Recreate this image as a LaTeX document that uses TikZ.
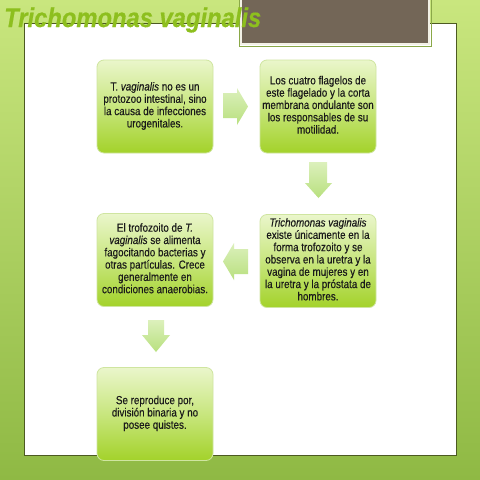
\documentclass[tikz,border=0pt]{standalone}
\usepackage{fontspec}
\usepackage{graphicx}
\setmainfont{Liberation Sans}
\newfontfamily\boxfont[FakeBold=0.3]{Liberation Sans}
\newfontfamily\titlefont[FakeStretch=0.88,FakeBold=0.5]{Liberation Sans}
\newcommand\boxlines[1]{\scalebox{0.84}[1]{\begin{tabular}{@{}c@{}}#1\end{tabular}}}
\definecolor{bgtop}{HTML}{C9E67E}
\definecolor{bgbot}{HTML}{8FB944}
\definecolor{panelline}{HTML}{4D5A22}
\definecolor{brownbox}{HTML}{736657}
\definecolor{creamline}{HTML}{F3F1E6}
\definecolor{outerline}{HTML}{8AA848}
\definecolor{titlegreen}{HTML}{8DBF1E}
\definecolor{boxtop}{HTML}{EAF6CB}
\definecolor{boxmid}{HTML}{C8E67E}
\definecolor{boxbot}{HTML}{A3D22A}
\definecolor{boxline}{HTML}{CFE5A0}
\definecolor{arrtop}{HTML}{DCF0BC}
\definecolor{arrbot}{HTML}{B8E07E}
\definecolor{txt}{HTML}{1A1A1A}
\tikzset{
  box/.style={rectangle, rounded corners=7pt, minimum width=116pt, minimum height=93pt,
    top color=boxtop, bottom color=boxbot, middle color=boxmid, draw=boxline, line width=0.8pt,
    text=txt, inner sep=0pt,
    font=\boxfont\fontsize{11.7}{12.3}\selectfont},
  blockarrow/.style={top color=arrtop, bottom color=arrbot, draw=none}
}
\begin{document}
\begin{tikzpicture}[x=1pt,y=-1pt]
\useasboundingbox (0,0) rectangle (480,480);
\shade[top color=bgtop, bottom color=bgbot] (0,0) rectangle (480,480);
\filldraw[fill=white, draw=panelline, line width=0.8pt] (24,23) rectangle (456,455);
\filldraw[fill=brownbox, draw=creamline, line width=2pt] (241,-3) rectangle (429,44);
\draw[outerline, line width=0.6pt] (239,-3) -- (239,46) -- (431,46) -- (431,-3);
\node[anchor=base west, inner sep=0pt, text=titlegreen,
  font=\titlefont\bfseries\itshape\fontsize{27}{30}\selectfont] (title) at (4,27) {Trichomonas vaginalis};

\node[box] (b1) at (155,106.5) {\boxlines{T. \textit{vaginalis} no es un\\protozoo intestinal, sino\\la causa de infecciones\\urogenitales.}};
\node[box] (b2) at (318,106.5) {\boxlines{Los cuatro flagelos de\\este flagelado y la corta\\membrana ondulante son\\los responsables de su\\motilidad.}};
\node[box] (b3) at (318,261) {\boxlines{\textit{Trichomonas vaginalis}\\existe únicamente en la\\forma trofozoito y se\\observa en la uretra y la\\vagina de mujeres y en\\la uretra y la próstata de\\hombres.}};
\node[box] (b4) at (155,260) {\boxlines{El trofozoito de \textit{T.}\\\textit{vaginalis} se alimenta\\fagocitando bacterias y\\otras partículas. Crece\\generalmente en\\condiciones anaerobias.}};
\node[box] (b5) at (155,414) {\boxlines{Se reproduce por,\\división binaria y no\\posee quistes.}};

% block arrows between the boxes
\shade[blockarrow] (223,93) -- (237,93) -- (237,88) -- (248,106.5) -- (237,125) -- (237,118) -- (223,118) -- cycle;
\shade[blockarrow] (309,162) -- (327,162) -- (327,183) -- (332,183) -- (318.5,198) -- (305,183) -- (309,183) -- cycle;
\shade[blockarrow] (248,249) -- (234,249) -- (234,243) -- (223,261.5) -- (234,280) -- (234,274) -- (248,274) -- cycle;
\shade[blockarrow] (148,320) -- (164,320) -- (164,335) -- (170,335) -- (156,352) -- (142,335) -- (148,335) -- cycle;
\end{tikzpicture}
\end{document}
